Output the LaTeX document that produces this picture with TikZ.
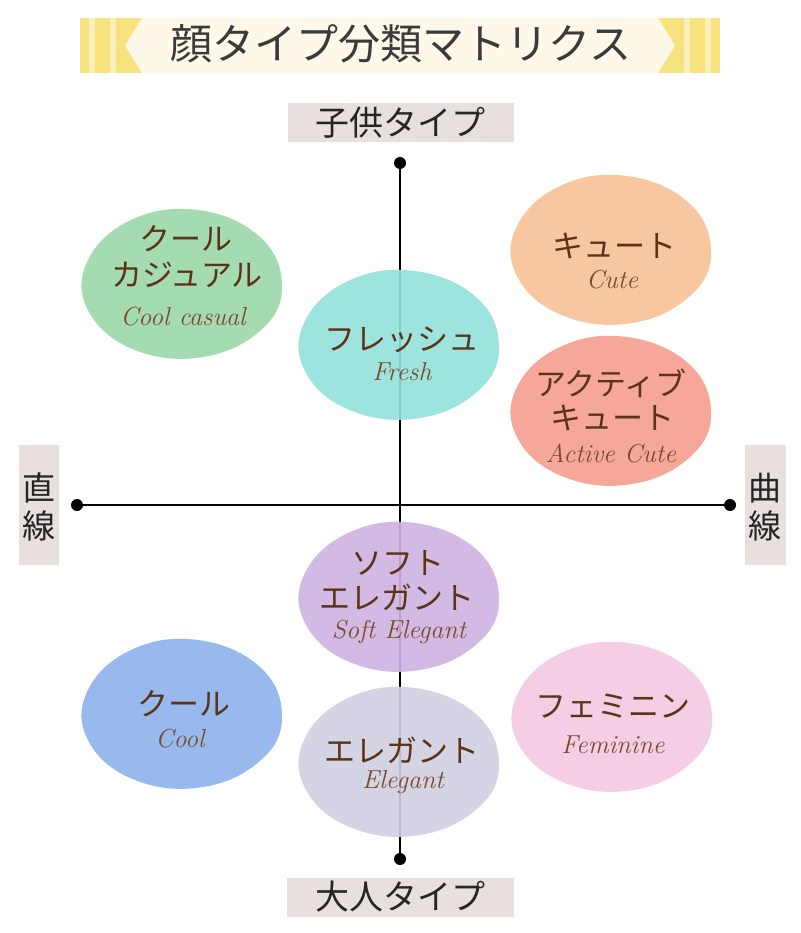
\documentclass[tikz,border=0pt]{standalone}
\usepackage{fontspec}
\newfontfamily\jp{Noto Sans CJK JP}
\definecolor{bany}{HTML}{F8E27E}
\definecolor{banl}{HTML}{FBF0BC}
\definecolor{banc}{HTML}{FDF8E7}
\definecolor{lboxc}{HTML}{E7E0DD}
\definecolor{jpbrown}{HTML}{5C3317}
\definecolor{enbrown}{HTML}{7B4B2A}
\definecolor{titlec}{HTML}{3A3A3A}
\definecolor{cgreen}{HTML}{9BD8A9}
\definecolor{ccyan}{HTML}{93E2DC}
\definecolor{corange}{HTML}{F8C295}
\definecolor{csalmon}{HTML}{F59E90}
\definecolor{clav}{HTML}{CFB3E2}
\definecolor{cblue}{HTML}{8CB2EC}
\definecolor{cgray}{HTML}{D0D0E3}
\definecolor{cpink}{HTML}{F4C8E2}
\newcommand\myblob[3]{%
  \fill[#3, fill opacity=0.9] plot[smooth cycle, tension=0.7] coordinates {
    ({#1+99},{#2+2}) ({#1+77},{#2-47}) ({#1+15},{#2-74}) ({#1-52},{#2-64})
    ({#1-96},{#2-22}) ({#1-94},{#2+28}) ({#1-48},{#2+66}) ({#1+20},{#2+73})
    ({#1+78},{#2+46})};}
\begin{document}
\begin{tikzpicture}[x=1pt,y=-1pt,
  dotn/.style={circle, fill=black, inner sep=0pt, minimum size=12pt},
  axisline/.style={line width=1.5pt, black},
  lbox/.style={fill=lboxc, inner sep=0pt},
  lbltext/.style={anchor=base, inner sep=0pt, text=black!85, font=\jp\fontsize{34}{38}\selectfont},
  jptext/.style={anchor=base, inner sep=0pt, text=jpbrown, font=\jp\fontsize{31}{36}\selectfont},
  entext/.style={anchor=base, inner sep=0pt, text=enbrown, font=\itshape\fontsize{26}{30}\selectfont},
]
\useasboundingbox (0,0) rectangle (800,933);
\fill[white] (0,0) rectangle (800,933);
% banner
\fill[bany] (80,18) rectangle (720,73);
\foreach \a/\b in {89/95,110/116,684/690,705/711}{\fill[banl] (\a,18) rectangle (\b,73);}
\fill[banc] (125,45.5) -- (142,18) -- (658,18) -- (675,45.5) -- (658,73) -- (142,73) -- cycle;
\node[anchor=base, inner sep=0pt, text=titlec, font=\jp\fontsize{42}{46}\selectfont] (title) at (401,60) {顔タイプ分類マトリクス};
% label boxes
\node[lbox, minimum width=226pt, minimum height=39pt] (tbox) at (400.5,122.5) {};
\node[lbltext] (ttext) at (400,136) {子供タイプ};
\node[lbox, minimum width=227pt, minimum height=39pt] (bbox) at (400.5,897.5) {};
\node[lbltext] (btext) at (400,909) {大人タイプ};
\node[lbox, minimum width=40pt, minimum height=120pt] (lbox) at (39,505) {};
\node[lbltext, font=\jp\fontsize{33}{38}\selectfont] (lt1) at (39,500) {直};
\node[lbltext, font=\jp\fontsize{33}{38}\selectfont] (lt2) at (39,538) {線};
\node[lbox, minimum width=41pt, minimum height=120pt] (rbox) at (765.5,505) {};
\node[lbltext, font=\jp\fontsize{33}{38}\selectfont] (rt1) at (765,500) {曲};
\node[lbltext, font=\jp\fontsize{33}{38}\selectfont] (rt2) at (765,538) {線};
% axes
\node[dotn] (vt) at (400,163) {};
\node[dotn] (vb) at (400,859) {};
\node[dotn] (hl) at (77,505) {};
\node[dotn] (hr) at (730,505) {};
\draw[axisline] (vt.center) -- (vb.center);
\draw[axisline] (hl.center) -- (hr.center);
% blobs
\myblob{183}{284}{cgreen}
\myblob{400}{345}{ccyan}
\myblob{612}{250}{corange}
\myblob{612}{411}{csalmon}
\myblob{400}{597}{clav}
\myblob{183}{714}{cblue}
\myblob{400}{762}{cgray}
\myblob{613}{717}{cpink}
% texts
\node[jptext] (cc1) at (186,250) {クール};
\node[jptext] (cc2) at (187,286) {カジュアル};
\node[entext] (cc3) at (183,325) {Cool casual};
\node[jptext] (fr1) at (402,350) {フレッシュ};
\node[entext] (fr2) at (402,380) {Fresh};
\node[jptext] (cu1) at (614,257) {キュート};
\node[entext] (cu2) at (612,288) {Cute};
\node[jptext] (ac1) at (611,395) {アクティブ};
\node[jptext] (ac2) at (612,429) {キュート};
\node[entext] (ac3) at (611,462) {Active Cute};
\node[jptext] (se1) at (398,574) {ソフト};
\node[jptext] (se2) at (397,609) {エレガント};
\node[entext] (se3) at (399,638) {Soft Elegant};
\node[jptext] (co1) at (184,715) {クール};
\node[entext] (co2) at (180,747) {Cool};
\node[jptext] (el1) at (402,762) {エレガント};
\node[entext] (el2) at (403,788) {Elegant};
\node[jptext] (fe1) at (613,717) {フェミニン};
\node[entext] (fe2) at (613,753) {Feminine};
\end{tikzpicture}
\end{document}
